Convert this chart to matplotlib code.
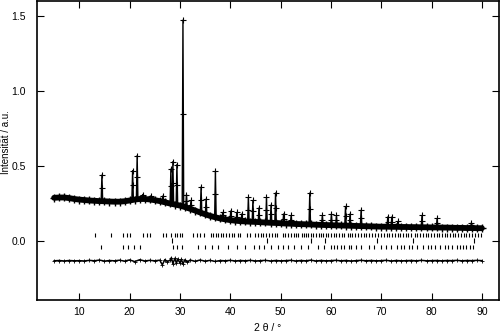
"""
Rietveld-style XRD plot: observed pattern, reflection markers of three
phases and the difference curve (values read off the reference picture).
"""

import numpy as np
import matplotlib
matplotlib.use("Agg")
import matplotlib.pyplot as plt

plt.rcParams["font.family"] = ["Liberation Sans", "DejaVu Sans"]

# observed background band, one value per degree 2theta (5 .. 90)
bg_x = list(range(5, 91))
bg_y = [0.288, 0.290, 0.290, 0.286, 0.280, 0.276, 0.273, 0.270, 0.268, 0.266,
        0.265, 0.263, 0.262, 0.262, 0.265, 0.270, 0.276, 0.280, 0.280, 0.277,
        0.272, 0.266, 0.258, 0.250, 0.243, 0.236, 0.226, 0.215, 0.203, 0.190,
        0.178, 0.167, 0.158, 0.150, 0.144, 0.139, 0.135, 0.132, 0.130, 0.128,
        0.127, 0.125, 0.123, 0.121, 0.120, 0.118, 0.116, 0.115, 0.113, 0.112,
        0.111, 0.110, 0.108, 0.107, 0.106, 0.105, 0.104, 0.103, 0.102, 0.101,
        0.100, 0.099, 0.098, 0.097, 0.096, 0.095, 0.095, 0.094, 0.094, 0.093,
        0.093, 0.092, 0.092, 0.091, 0.091, 0.090, 0.090, 0.089, 0.089, 0.088,
        0.087, 0.087, 0.086, 0.086, 0.085, 0.085]

# observed reflections: position and top intensity
peak_pos = [14.5, 20.6, 21.5, 22.6, 24.3, 26.6, 28.2, 28.6, 29.4, 30.6,
            31.3, 32.2, 34.2, 35.2, 37.05, 38.5, 40.1, 41.3, 42.3, 43.6,
            44.5, 45.7, 47.2, 48.1, 49.0, 50.6, 52.1, 55.8, 58.3, 60.1,
            61.1, 62.9, 63.8, 66.0, 71.3, 72.1, 73.3, 78.1, 81.1, 87.9]
peak_top = [0.44, 0.47, 0.57, 0.31, 0.30, 0.30, 0.48, 0.53, 0.51, 1.475,
            0.31, 0.27, 0.36, 0.28, 0.467, 0.19, 0.20, 0.19, 0.18, 0.29,
            0.27, 0.22, 0.29, 0.24, 0.32, 0.18, 0.17, 0.32, 0.17, 0.18,
            0.17, 0.23, 0.18, 0.205, 0.16, 0.16, 0.13, 0.17, 0.15, 0.12]

# reflection markers for the phases
phase1 = [13.1, 16.3, 18.7, 19.4, 20.1, 22.7, 23.4, 24.0, 26.6, 27.2, 28.3,
          29.0, 29.5, 30.0, 30.5, 32.6, 33.3, 34.0, 34.8, 36.2, 36.6, 37.1,
          37.6, 38.1, 38.6, 39.2, 39.7, 40.3, 40.8, 41.5, 42.0, 43.3, 43.9,
          45.0, 45.6, 46.1, 46.6, 47.1, 47.7, 48.2, 48.8, 49.3, 50.4, 50.9,
          51.5, 52.0, 52.6, 53.0, 53.5, 54.2, 54.6, 55.0, 55.5, 56.0, 56.5,
          57.0, 57.6, 58.1, 58.5, 59.0, 59.5, 60.0, 60.6, 61.1, 61.6, 62.2,
          62.7, 63.3, 63.8, 64.2, 64.7, 65.3, 65.9, 66.5, 67.0, 67.5, 68.1,
          68.7, 69.4, 70.0, 70.6, 71.1, 71.6, 72.2, 72.7, 73.3, 73.8, 74.4,
          74.9, 75.4, 76.0, 76.7, 77.2, 77.7, 78.2, 78.8, 79.3, 79.8, 80.4,
          81.0, 81.5, 82.1, 82.6, 83.1, 83.6, 84.2, 84.7, 85.2, 85.8, 86.4,
          86.9, 87.5, 88.0, 88.6, 89.2, 89.8]
phase2 = [14.4, 18.7, 19.7, 20.9, 22.0, 28.7, 29.5, 30.5, 33.6, 35.0, 36.3,
          37.6, 39.6, 41.3, 43.0, 44.8, 45.8, 46.8, 48.1, 49.4, 50.4, 51.4,
          52.7, 54.0, 55.4, 57.4, 58.7, 60.0, 60.7, 61.3, 62.0, 62.7, 63.5,
          64.0, 65.0, 66.0, 67.6, 68.6, 70.0, 71.0, 72.0, 73.2, 73.9, 74.6,
          75.6, 76.2, 77.2, 78.2, 79.2, 79.9, 80.6, 81.6, 82.6, 83.2, 84.1,
          85.1, 85.7, 86.3, 86.9, 87.6, 88.3]
phase3 = [28.5, 47.3, 56.1, 58.8, 69.2, 76.3, 88.4]

# difference curve (obs - calc)
diff_x = [5, 6, 7, 8, 9, 10, 11, 12, 13, 14, 15, 16, 17, 18, 19, 20, 21, 22,
          23, 24, 25, 26, 26.5, 27, 27.5, 28, 28.3, 28.6, 29, 29.3, 29.6, 30,
          30.3, 30.6, 31, 31.5, 32, 33, 34, 35, 36, 37, 38, 39, 40, 41, 42, 43,
          44, 45, 46, 47, 48, 49, 50, 51, 52, 53, 54, 55, 56, 57, 58, 59, 60,
          61, 62, 63, 64, 65, 66, 67, 68, 69, 70, 71, 72, 73, 74, 75, 76, 77,
          78, 79, 80, 81, 82, 83, 84, 85, 86, 87, 88, 89, 90]
diff_y = [-0.133, -0.131, -0.134, -0.131, -0.133, -0.132, -0.134, -0.130,
          -0.133, -0.128, -0.135, -0.131, -0.133, -0.129, -0.135, -0.127,
          -0.138, -0.126, -0.134, -0.130, -0.133, -0.129, -0.160, -0.125,
          -0.138, -0.130, -0.112, -0.152, -0.116, -0.150, -0.120, -0.147,
          -0.122, -0.155, -0.125, -0.142, -0.128, -0.136, -0.128, -0.135,
          -0.130, -0.137, -0.131, -0.133, -0.130, -0.134, -0.131, -0.133,
          -0.130, -0.134, -0.132, -0.130, -0.134, -0.131, -0.133, -0.132,
          -0.130, -0.134, -0.131, -0.133, -0.129, -0.134, -0.131, -0.133,
          -0.132, -0.130, -0.133, -0.131, -0.134, -0.132, -0.130, -0.133,
          -0.131, -0.133, -0.132, -0.130, -0.134, -0.131, -0.133, -0.132,
          -0.131, -0.133, -0.130, -0.133, -0.132, -0.131, -0.133, -0.131,
          -0.132, -0.130, -0.133, -0.131, -0.132, -0.130, -0.132]

fig = plt.figure(figsize=(5, 3.33), dpi=100)
ax = fig.add_axes([0.074, 0.099, 0.924, 0.899])

# observed band
ax.plot(bg_x, bg_y, color="black", lw=4.2, solid_capstyle="round")
ax.plot(bg_x, bg_y, "+", color="black", ms=6, mew=1.0)

# reflections as thin spikes rising out of the band
for p, t in zip(peak_pos, peak_top):
    base = bg_y[int(round(p)) - bg_x[0]]
    ax.plot([p - 0.15, p, p + 0.15], [base, t, base], color="black", lw=1.0)
    ax.plot([p, p], [t, (t + base) / 2], "+", color="black", ms=4, mew=0.8)

# phase reflection markers
ax.vlines(phase1, 0.027, 0.055, color="black", lw=0.8)
ax.vlines(phase2, -0.052, -0.024, color="black", lw=0.8)
ax.vlines(phase3, -0.016, 0.022, color="black", lw=0.8)

# difference curve
ax.plot(diff_x, diff_y, color="black", lw=1.1)
ax.plot(diff_x, diff_y, "+", color="black", ms=2.5, mew=0.6)

ax.set_xlim(1.6, 93.4)
ax.set_ylim(-0.395, 1.605)
ax.set_xticks([10, 20, 30, 40, 50, 60, 70, 80, 90])
ax.set_yticks([0.0, 0.5, 1.0, 1.5])
ax.set_yticklabels(["0.0", "0.5", "1.0", "1.5"])
ax.tick_params(direction="in", length=5, width=0.8, labelsize=7.5,
               top=True, right=True)
ax.tick_params(axis="y", pad=8)
ax.tick_params(axis="x", pad=5)
for s in ax.spines.values():
    s.set_linewidth(1.2)

ax.set_xlabel("2 θ / °", fontsize=7.5, labelpad=4)
ax.set_ylabel("Intensität / a.u.", fontsize=7, va="center")
ax.yaxis.set_label_coords(-0.068, 0.527)

fig.savefig("out.png", dpi=100)
